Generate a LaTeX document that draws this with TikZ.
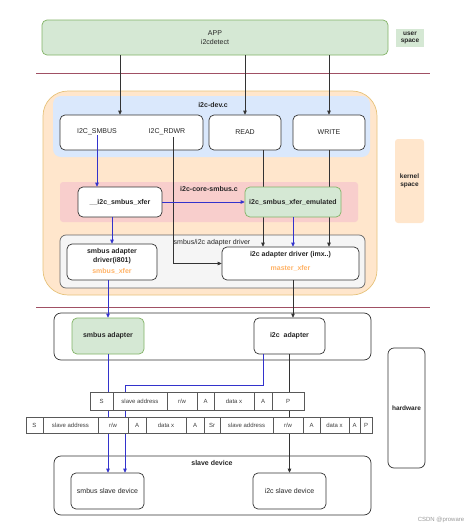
\documentclass[tikz,border=0pt]{standalone}
\usepackage{fontspec}
\setmainfont{Liberation Sans}
\usetikzlibrary{arrows.meta}
\definecolor{gfill}{HTML}{D5E8D4}
\definecolor{gline}{HTML}{82B366}
\definecolor{ofill}{HTML}{FFE6CC}
\definecolor{oline}{HTML}{E6C27A}
\definecolor{bfill}{HTML}{DAE8FC}
\definecolor{rfill}{HTML}{F8CECC}
\definecolor{grfill}{HTML}{F5F5F5}
\definecolor{sep}{HTML}{A05064}
\definecolor{bl}{HTML}{3333CC}
\definecolor{ortxt}{HTML}{FFB366}
\definecolor{dk}{HTML}{333333}
\tikzset{
  base/.style={font=\fontsize{7}{8.4}\selectfont, text=black!85, align=center, inner sep=0pt},
  box/.style={base, draw=dk, line width=0.7pt, rounded corners=5pt, fill=white},
  gbox/.style={box, fill=gfill, draw=gline},
  zone/.style={base, rounded corners=3pt},
  lbl/.style={base, font=\fontsize{7}{8.4}\selectfont\bfseries, text=black!85},
  cell/.style={base, draw=black!65, line width=0.6pt, fill=white, font=\fontsize{6}{7}\selectfont, text=black!75},
  arr/.style={draw=dk, line width=0.7pt, -{Triangle[length=4pt,width=3.6pt]}},
  barr/.style={draw=bl, line width=0.7pt, -{Triangle[length=4pt,width=3.6pt]}},
  bline/.style={draw=bl, line width=0.7pt},
  sepline/.style={draw=sep, line width=0.7pt},
}
\begin{document}
\begin{tikzpicture}[x=1pt,y=-1pt]
\useasboundingbox (0,0) rectangle (474,530);
% ---------- user space ----------
\node[gbox, minimum width=346, minimum height=35] (app) at (215,37.5) {APP\\i2cdetect};
\node[zone, fill=gfill, rounded corners=0pt, minimum width=28, minimum height=18, font=\fontsize{6.5}{7.6}\selectfont\bfseries] (user) at (410,38) {user\\space};
\coordinate (s1a) at (36,73);
\coordinate (s1b) at (430,73);
\draw[sepline] (s1a) -- (s1b);
% ---------- kernel ----------
\node[zone, fill=ofill, draw=oline, line width=0.7pt, rounded corners=25pt, minimum width=334, minimum height=204] (kern) at (210,193) {};
\node[zone, fill=ofill, minimum width=29, minimum height=84, font=\fontsize{6.5}{7.6}\selectfont\bfseries] (kspace) at (409.5,181) {kernel\\space};
\node[zone, fill=bfill, rounded corners=8pt, minimum width=317, minimum height=61] (devc) at (211.5,126.5) {};
\node[lbl] (devlbl) at (213,105) {i2c-dev.c};
\node[box, minimum width=143, minimum height=35] (smbrdwr) at (131.5,132.5) {};
\node[base] (smbtxt) at (97,132) {I2C\_SMBUS};
\node[base] (rdwrtxt) at (167,132) {I2C\_RDWR};
\node[box, minimum width=72, minimum height=35] (read) at (245,132.5) {READ};
\node[box, minimum width=72, minimum height=35] (write) at (329,132.5) {WRITE};
\node[zone, fill=rfill, minimum width=298, minimum height=40] (core) at (209,202) {};
\node[lbl] (corelbl) at (209,189) {i2c-core-smbus.c};
\node[box, minimum width=84, minimum height=30, font=\fontsize{7}{8.4}\selectfont\bfseries] (xfer) at (120,202) {\_\_i2c\_smbus\_xfer};
\node[zone, fill=grfill, draw=black!60, line width=0.7pt, rounded corners=6pt, minimum width=305, minimum height=53] (adrv) at (212.5,261.5) {};
\node[base] (adrvlbl) at (212,243) {smbus/i2c adapter driver};
\node[box, minimum width=90, minimum height=36] (sdrv) at (112,262) {};
\node[lbl] (sdrvtxt) at (112,256) {smbus adapter\\driver(i801)};
\node[lbl, text=ortxt] (sxfer) at (112,271) {smbus\_xfer};
\node[box, minimum width=137, minimum height=33] (idrv) at (290.5,263.5) {};
\node[lbl] (idrvtxt) at (290.5,255) {i2c adapter driver (imx..)};
\node[lbl, text=ortxt] (mxfer) at (290.5,268) {master\_xfer};
% helper x positions
\coordinate (x120) at (120,0);
\coordinate (x173) at (173,137);
\coordinate (x263) at (263,0);
\coordinate (x293) at (293,0);
% connectors from APP
\draw[arr] (app.south -| x120) -- (smbrdwr.north -| x120);
\draw[arr] (app.south -| read) -- (read.north);
\draw[arr] (app.south -| write) -- (write.north);
% kernel connectors (behind emulated box)
\draw[arr] (x173) |- (idrv.west);
\draw[arr] (read.south -| x263) -- (idrv.north -| x263);
\draw[arr] (write.south) -- (idrv.north -| write);
\node[gbox, minimum width=96, minimum height=30, font=\fontsize{7}{8.4}\selectfont\bfseries] (emul) at (293,202) {i2c\_smbus\_xfer\_emulated};
\draw[barr] (smbtxt.south) -- (xfer.north -| smbtxt);
\draw[barr] (xfer.east) -- (emul.west);
\draw[barr] (xfer.south -| sdrv) -- (sdrv.north);
\draw[barr] (emul.south) -- (idrv.north -| emul);
% ---------- hardware ----------
\coordinate (s2a) at (36,307);
\coordinate (s2b) at (430,307);
\draw[sepline] (s2a) -- (s2b);
\node[box, rounded corners=7pt, minimum width=317, minimum height=47] (hw) at (212.5,336.5) {};
\node[gbox, minimum width=72, minimum height=36, font=\fontsize{7}{8.4}\selectfont\bfseries] (sadp) at (108,336) {smbus adapter};
\node[box, minimum width=71, minimum height=36, font=\fontsize{7}{8.4}\selectfont\bfseries] (iadp) at (289.5,336) {i2c\ \ adapter};
\node[box, rounded corners=6pt, minimum width=37, minimum height=120, font=\fontsize{6.5}{7.6}\selectfont\bfseries] (hwlbl) at (406.5,408) {hardware};
\draw[barr] (sdrv.south -| sadp) -- (sadp.north);
\draw[arr] (idrv.south -| x293) -- (iadp.north -| x293);
% slave device
\node[box, rounded corners=7pt, minimum width=317, minimum height=59] (slv) at (212.5,485.5) {};
\node[lbl] (slvlbl) at (212,463) {slave device};
\node[box, minimum width=73, minimum height=36] (ssd) at (107.5,491) {smbus slave device};
\node[box, minimum width=73, minimum height=36] (isd) at (289.5,491) {i2c slave device};
\coordinate (bend) at (125,385);
\draw[barr] (sadp.south) -- (ssd.north -| sadp);
\draw[barr] (iadp.south -| x263) |- (bend) -- (ssd.north -| bend);
\draw[arr] (iadp.south) -- (isd.north);
% packet rows
\foreach \a/\b/\t [count=\i] in {90/113/S,113/167/slave address,167/197/r\slash w,197/214/A,214/254/data x,254/272/A,272/304/P}
  \node[cell, minimum width={\b-\a}, minimum height=18] (ra\i) at ({(\a+\b)/2},401) {\t};
\foreach \a/\b/\t [count=\i] in {26/43/S,43/98/slave address,98/128/r\slash w,128/146/A,146/186/data x,186/204/A,204/220/Sr,220/273/slave address,273/303/r\slash w,303/320/A,320/349/data x,349/360/A,360/372/P}
  \node[cell, minimum width={\b-\a}, minimum height=16] (rb\i) at ({(\a+\b)/2},425) {\t};
\node[base, text=black!40, font=\fontsize{6}{7}\selectfont] (csdn) at (441,520) {CSDN @proware};
\end{tikzpicture}
\end{document}
